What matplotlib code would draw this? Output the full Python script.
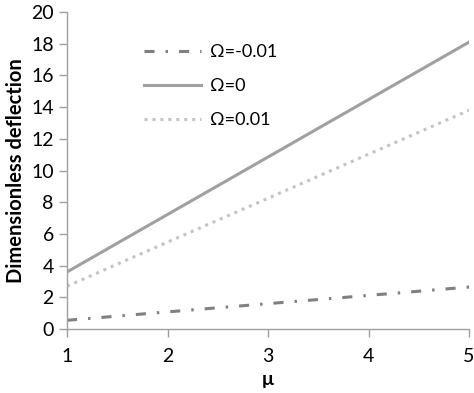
import matplotlib.pyplot as plt

mu = [1, 2, 3, 4, 5]
omega_neg = [0.55, 1.08, 1.6, 2.12, 2.65]
omega_zero = [3.6, 7.225, 10.85, 14.475, 18.1]
omega_pos = [2.7, 5.48, 8.25, 11.03, 13.8]

plt.rcParams['font.family'] = ['Lato', 'DejaVu Sans']

fig = plt.figure(figsize=(4.74, 3.93), dpi=100)
ax = fig.add_axes([0.1414, 0.1628, 0.8481, 0.8067])

ax.plot(mu, omega_neg, color='#808080', lw=2.2, dashes=(3.3, 3.6, 0.8, 3.6), label='\u03a9=-0.01')
ax.plot(mu, omega_zero, color='#a0a0a0', lw=2.2, label='\u03a9=0')
ax.plot(mu, omega_pos, color='#c4c4c4', lw=2.2, dashes=(1, 1.6), label='\u03a9=0.01')

ax.set_xlim(1, 5)
ax.set_ylim(0, 20)
ax.set_xticks([1, 2, 3, 4, 5])
ax.set_yticks(range(0, 21, 2))
ax.tick_params(labelsize=14, colors='black', length=6, width=1)
ax.tick_params(axis='both', color='#a0a0a0')
ax.tick_params(axis='x', pad=8)
for s in ['top', 'right']:
    ax.spines[s].set_visible(False)
for s in ['left', 'bottom']:
    ax.spines[s].set_color('#a0a0a0')
    ax.spines[s].set_linewidth(1)

ax.set_xlabel('\u03bc', fontsize=14, fontweight='bold', labelpad=4)
ax.set_ylabel('Dimensionless deflection', fontsize=14.5, fontweight='bold', labelpad=4)

ax.legend(loc='upper left', bbox_to_anchor=(0.15, 0.95), frameon=False, fontsize=13,
          handlelength=3.2, labelspacing=1.0, handletextpad=0.5)

fig.savefig('out.png', dpi=100)
